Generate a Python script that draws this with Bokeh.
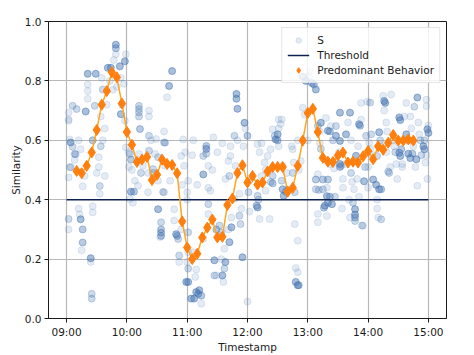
import numpy as np
import pandas as pd
from bokeh.plotting import figure
from bokeh.models import (Range1d, FixedTicker, DatetimeTickFormatter, PrintfTickFormatter,
                          Legend, LegendItem, ColumnDataSource)
from bokeh.embed import file_html
from bokeh.resources import INLINE

DAY = "2000-01-01 "

# ---- axes ----
tick_labels = ["09:00", "10:00", "11:00", "12:00", "13:00", "14:00", "15:00"]
x_limits = ["08:42", "15:18"]
y_ticks = [0.0, 0.2, 0.4, 0.6, 0.8, 1.0]
y_limits = [0.0, 1.0]

# ---- threshold ----
threshold_value = 0.4
threshold_span = ["09:00", "15:00"]

# ---- predominant behaviour ----
pb_time = ["09:10", "09:15", "09:20", "09:25", "09:30", "09:35", "09:40", "09:45", "09:50", "09:55",
           "10:00", "10:05", "10:10", "10:15", "10:20", "10:25", "10:30", "10:35", "10:40", "10:45",
           "10:50", "10:55", "11:00", "11:05", "11:10", "11:15", "11:20", "11:25", "11:30", "11:35",
           "11:40", "11:45", "11:50", "11:55", "12:00", "12:05", "12:10", "12:15", "12:20", "12:25",
           "12:30", "12:35", "12:40", "12:45", "12:50", "12:55", "13:00", "13:05", "13:10", "13:15",
           "13:20", "13:25", "13:30", "13:35", "13:40", "13:45", "13:50", "13:55", "14:00", "14:05",
           "14:10", "14:15", "14:20", "14:25", "14:30", "14:35", "14:40", "14:45"]
pb_value = [0.497, 0.489, 0.514, 0.559, 0.635, 0.720, 0.766, 0.829, 0.812, 0.724,
            0.628, 0.585, 0.527, 0.535, 0.544, 0.466, 0.484, 0.535, 0.520, 0.517,
            0.489, 0.327, 0.239, 0.200, 0.218, 0.273, 0.306, 0.333, 0.273, 0.275,
            0.382, 0.404, 0.490, 0.516, 0.458, 0.480, 0.451, 0.458, 0.495, 0.510,
            0.510, 0.510, 0.427, 0.440, 0.514, 0.599, 0.692, 0.706, 0.628, 0.541,
            0.528, 0.527, 0.549, 0.559, 0.525, 0.528, 0.525, 0.546, 0.564, 0.536,
            0.580, 0.568, 0.592, 0.618, 0.599, 0.599, 0.603, 0.599]

# ---- S observations: minutes after 09:00, similarity, number of coincident observations ----
s_minute = [
    2, 2, 2, 3, 4, 6, 8, 4, 3, 2, 2, 2, 6, 10, 9, 8, 19, 21, 21, 21, 21, 29, 28, 36, 35, 34, 26, 34, 32, 32,
    30, 14, 16, 16, 15, 12, 13, 24, 24, 25, 25, 26, 26, 33, 33, 16, 12, 14, 18, 38, 36, 40,
    41, 44, 49, 49, 49, 58, 53, 47, 59, 54, 54, 55, 58, 59, 62, 62, 65, 43, 46, 38, 50, 57,
    72, 72, 72, 72, 73, 82, 82, 82, 89, 97, 97, 105, 102, 100, 63, 64, 72, 82, 88, 91,
    64, 67, 63, 68, 71, 74, 76, 81, 81, 86, 86, 91, 91, 94, 94, 94, 94, 93, 98, 98,
    97, 103, 96, 107, 107, 109, 110, 111, 114, 112, 112, 114, 116, 117, 115, 118, 84, 66,
    121, 120, 120, 121, 121, 120, 121, 119, 121, 124, 127, 129, 131, 132, 134, 134, 128, 129, 126, 136,
    136, 136, 139, 139, 139, 141, 141, 141, 143, 141, 147, 147, 149, 149, 152, 154, 152, 154, 155, 157,
    158, 156, 157, 162, 161, 164, 164, 163, 163, 161, 162, 167, 168, 169, 169, 170, 167, 172, 173, 174,
    175, 177, 180, 178, 176, 155, 146, 150, 158, 125, 126, 130, 145, 172, 170,
    181, 182, 182, 180, 190, 192, 190, 191, 190, 189, 192, 194, 197, 198, 200, 202, 203, 194, 205, 207,
    208, 210, 210, 211, 211, 211, 205, 203, 205, 214, 213, 215, 214, 215, 216, 218, 219, 220, 224, 225,
    226, 225, 227, 227, 230, 228, 230, 231, 228, 230, 231, 233, 237, 235, 235, 238, 241, 244, 246, 248,
    242, 240, 230, 198,
    250, 252, 253, 252, 250, 251, 250, 250, 248, 255, 260, 248, 255, 259, 260, 257, 256, 258, 259, 259,
    253, 260, 262, 263, 262, 264, 262, 267, 266, 268, 268, 265, 272, 272, 272, 272, 271, 273, 274, 275,
    275, 278, 280, 282, 283, 281, 282, 283, 285, 287, 287, 287, 287, 286, 284, 288, 289, 291, 292, 290,
    291, 293, 293, 294, 295, 296, 297, 298, 299, 300, 300, 302, 302, 277,
    301, 303, 304, 305, 308, 311, 313, 309, 309, 310, 313, 309, 311, 312, 314, 316, 317, 315, 316, 318,
    319, 318, 320, 321, 322, 323, 325, 326, 327, 328, 329, 331, 332, 331, 332, 333, 334, 334, 336, 338,
    338, 340, 340, 342, 344, 342, 343, 345, 346, 348, 347, 349, 349, 350, 351, 352, 353, 355, 356, 356,
    358, 358, 359, 360, 360, 358, 359, 357]
s_value = [
    0.693, 0.67, 0.666, 0.603, 0.593, 0.578, 0.554, 0.51, 0.508, 0.475, 0.335, 0.30, 0.716, 0.705, 0.553,
    0.534, 0.697, 0.824, 0.788, 0.766, 0.74, 0.824, 0.716, 0.771, 0.81, 0.68, 0.60, 0.58, 0.543, 0.51,
    0.49, 0.334, 0.30, 0.256, 0.23, 0.37, 0.35, 0.203, 0.19, 0.083, 0.067, 0.378, 0.357, 0.446, 0.42,
    0.445, 0.60, 0.57, 0.48, 0.48, 0.60, 0.72,
    0.844, 0.844, 0.922, 0.91, 0.89, 0.866, 0.849, 0.87, 0.89, 0.81, 0.688, 0.72, 0.666, 0.576, 0.56,
    0.51, 0.50, 0.80, 0.77, 0.64, 0.78, 0.79,
    0.716, 0.705, 0.694, 0.68, 0.638, 0.70, 0.68, 0.615, 0.604, 0.63, 0.593, 0.833, 0.783, 0.745, 0.554,
    0.535, 0.554, 0.565, 0.554, 0.543, 0.427, 0.427, 0.402, 0.464, 0.447, 0.49, 0.514, 0.49, 0.425, 0.503,
    0.49, 0.464, 0.368, 0.324, 0.30, 0.289, 0.278, 0.274, 0.514, 0.592, 0.425, 0.464, 0.426, 0.368, 0.33,
    0.284, 0.278, 0.268, 0.30, 0.212, 0.19, 0.547, 0.603, 0.514, 0.45, 0.56, 0.60, 0.39,
    0.464, 0.425, 0.40, 0.29, 0.223, 0.19, 0.168, 0.123, 0.123, 0.067, 0.067, 0.089, 0.083, 0.095, 0.077,
    0.05, 0.14, 0.165, 0.223, 0.268, 0.485, 0.547, 0.571, 0.581, 0.555, 0.514, 0.385, 0.352, 0.43, 0.44,
    0.196, 0.145, 0.145, 0.30, 0.313, 0.29, 0.28, 0.20, 0.145, 0.168, 0.19, 0.123, 0.235, 0.257, 0.30,
    0.34, 0.307, 0.58, 0.547, 0.53, 0.48, 0.402, 0.514, 0.756, 0.74, 0.706, 0.615, 0.346, 0.318, 0.37,
    0.206, 0.659, 0.615, 0.64, 0.58, 0.59, 0.61, 0.56, 0.47, 0.55, 0.60, 0.45, 0.50, 0.42, 0.60,
    0.425, 0.464, 0.36, 0.057, 0.587, 0.56, 0.413, 0.40, 0.374, 0.38, 0.335, 0.48, 0.525, 0.50, 0.547,
    0.335, 0.57, 0.59, 0.637, 0.615, 0.603, 0.62, 0.60, 0.67, 0.64, 0.58, 0.48, 0.46, 0.455, 0.67,
    0.655, 0.514, 0.464, 0.435, 0.413, 0.427, 0.49, 0.435, 0.58, 0.57, 0.525, 0.49, 0.425, 0.318, 0.262,
    0.123, 0.112, 0.112, 0.17, 0.156, 0.50, 0.53, 0.687, 0.71, 0.815, 0.80, 0.815, 0.793, 0.788, 0.771,
    0.832, 0.60, 0.60, 0.43,
    0.648, 0.63, 0.659, 0.59, 0.486, 0.433, 0.352, 0.324, 0.468, 0.468, 0.468, 0.435, 0.435, 0.412, 0.39,
    0.38, 0.373, 0.675, 0.44, 0.345, 0.571, 0.632, 0.63, 0.648, 0.52, 0.385, 0.41, 0.41, 0.505, 0.648,
    0.615, 0.60, 0.598, 0.693, 0.52, 0.51, 0.56, 0.514, 0.37, 0.44, 0.47, 0.62, 0.66, 0.693, 0.60,
    0.40, 0.34, 0.49, 0.39, 0.368, 0.35, 0.34, 0.328, 0.435, 0.46, 0.548, 0.47, 0.654, 0.649, 0.58,
    0.41, 0.726, 0.67, 0.313, 0.312, 0.462, 0.51, 0.615, 0.73, 0.44, 0.51, 0.727, 0.57, 0.52,
    0.592, 0.62, 0.55, 0.468, 0.45, 0.435, 0.435, 0.40, 0.37, 0.34, 0.334, 0.547, 0.627, 0.60, 0.58,
    0.732, 0.726, 0.75, 0.70, 0.66, 0.63, 0.56, 0.495, 0.49, 0.51, 0.754, 0.60, 0.58, 0.56, 0.52,
    0.47, 0.677, 0.668, 0.558, 0.547, 0.57, 0.52, 0.51, 0.68, 0.726, 0.62, 0.60, 0.555, 0.54, 0.555,
    0.68, 0.64, 0.58, 0.713, 0.536, 0.51, 0.744, 0.447, 0.66, 0.62, 0.60, 0.55, 0.58, 0.57, 0.60,
    0.737, 0.715, 0.637, 0.625, 0.65, 0.55, 0.47, 0.525]
s_count = [
    1, 1, 1, 1, 4, 2, 2, 2, 1, 1, 2, 1, 2, 2, 2, 1, 4, 4, 1, 1, 1, 4, 2, 2, 1, 1, 3, 2, 1, 1,
    1, 4, 3, 3, 1, 1, 1, 4, 1, 2, 2, 1, 1, 2, 1, 1, 1, 1, 1, 1, 1, 1,
    4, 4, 4, 3, 1, 4, 4, 1, 1, 1, 4, 1, 1, 1, 1, 1, 1, 1, 1, 1, 1, 1,
    2, 2, 2, 2, 3, 1, 1, 2, 1, 1, 2, 4, 4, 1, 2, 3, 1, 2, 1, 2,
    4, 3, 1, 1, 1, 2, 1, 1, 1, 2, 2, 1, 4, 2, 3, 3, 3, 1, 1, 2,
    1, 1, 2, 1, 1, 4, 3, 2, 1, 2, 1, 1, 1, 1, 1, 1, 1, 1,
    1, 1, 1, 2, 1, 1, 2, 4, 4, 4, 4, 4, 4, 4, 3, 1, 1, 1, 1, 1,
    4, 2, 4, 3, 2, 1, 2, 1, 1, 1, 4, 2, 1, 3, 2, 2, 1, 1, 4, 2,
    4, 1, 1, 4, 1, 1, 4, 1, 1, 1, 2, 1, 1, 4, 4, 4, 2, 2, 2, 1,
    4, 4, 3, 1, 1, 1, 1, 1, 1, 1, 1, 1, 1, 1, 1,
    2, 1, 1, 1, 1, 1, 2, 2, 4, 3, 1, 1, 1, 1, 1, 1, 1, 1, 1, 2,
    4, 4, 3, 1, 1, 1, 2, 2, 3, 1, 1, 1, 2, 4, 4, 3, 1, 1, 1, 1,
    1, 2, 2, 1, 1, 4, 4, 3, 1, 1, 1, 1, 1, 1, 4, 4, 1, 4, 3, 4,
    1, 1, 1, 1,
    2, 1, 4, 1, 1, 2, 1, 1, 3, 3, 3, 2, 2, 4, 4, 4, 3, 1, 1, 1,
    2, 4, 3, 1, 1, 4, 3, 2, 1, 2, 4, 2, 4, 4, 4, 3, 1, 2, 1, 1,
    1, 4, 1, 4, 1, 1, 1, 2, 2, 4, 4, 3, 2, 1, 1, 4, 1, 4, 3, 1,
    1, 1, 1, 2, 1, 4, 2, 2, 1, 1, 1, 2, 1, 1,
    1, 2, 1, 4, 4, 4, 3, 1, 1, 1, 2, 2, 4, 2, 1, 4, 4, 1, 1, 1,
    1, 1, 2, 2, 1, 1, 1, 1, 2, 1, 1, 4, 4, 4, 4, 3, 1, 1, 1, 1,
    4, 3, 4, 4, 3, 1, 1, 1, 2, 4, 1, 4, 1, 1, 1, 2, 2, 4, 4, 2,
    1, 1, 4, 4, 1, 1, 1, 1]


def ts(hhmm):
    return pd.Timestamp(DAY + hhmm)


base = ts("09:00")
n = min(len(s_minute), len(s_value), len(s_count))
s_x = base + pd.to_timedelta(np.repeat(np.array(s_minute[:n], dtype=float), s_count[:n]), unit="m")
s_y = np.repeat(np.array(s_value[:n]), s_count[:n])

FONT = "DejaVu Sans"

p = figure(width=474, height=355, output_backend="svg", toolbar_location=None,
           x_axis_type="datetime",
           x_range=Range1d(ts(x_limits[0]), ts(x_limits[1])),
           y_range=Range1d(y_limits[0], y_limits[1]),
           min_border_left=48, min_border_right=28, min_border_top=21, min_border_bottom=35,
           x_axis_label="Timestamp", y_axis_label="Similarity")
p.background_fill_color = "white"
p.border_fill_color = "white"
p.outline_line_color = "#1a1a1a"
p.outline_line_width = 1

sc = p.scatter(x=s_x, y=s_y, size=7, marker="circle",
               fill_color="#4a78b6", fill_alpha=0.15,
               line_color="#4a78b6", line_alpha=0.15, line_width=1)

thr = p.line(x=[ts(threshold_span[0]), ts(threshold_span[1])],
             y=[threshold_value, threshold_value], line_color="#0d2150", line_width=1.6)

pb_src = ColumnDataSource(dict(x=[ts(t) for t in pb_time], y=pb_value))
p.line(x="x", y="y", source=pb_src, line_color="#ffa520", line_width=1.5)
pb = p.scatter(x="x", y="y", source=pb_src, marker="diamond", size=11,
               fill_color="#ff7f0e", line_color="#ff7f0e")

# axes
p.xaxis.ticker = FixedTicker(ticks=[ts(t).value / 1e6 for t in tick_labels])
fmt = "%H:%M"
p.xaxis.formatter = DatetimeTickFormatter(microseconds=fmt, milliseconds=fmt, seconds=fmt,
                                          minsec=fmt, minutes=fmt, hourmin=fmt, hours=fmt,
                                          days=fmt, months=fmt, years=fmt)
p.yaxis.ticker = FixedTicker(ticks=y_ticks)
p.yaxis.formatter = PrintfTickFormatter(format="%.1f")
for ax in (p.xaxis, p.yaxis):
    ax.major_label_text_font = FONT
    ax.major_label_text_font_size = "10.5px"
    ax.major_label_text_color = "#1a1a1a"
    ax.axis_label_text_font = FONT
    ax.axis_label_text_font_size = "10.5px"
    ax.axis_label_text_font_style = "normal"
    ax.axis_label_text_color = "#1a1a1a"
    ax.axis_line_color = "#1a1a1a"
    ax.major_tick_line_color = "#1a1a1a"
    ax.major_tick_out = 4
    ax.major_tick_in = 0
    ax.minor_tick_line_color = None
    ax.major_label_standoff = 3
    ax.axis_label_standoff = 0

p.grid.grid_line_color = "#b8b8b8"
p.grid.grid_line_width = 1.2

legend = Legend(items=[LegendItem(label="S", renderers=[sc]),
                       LegendItem(label="Threshold", renderers=[thr]),
                       LegendItem(label="Predominant Behavior", renderers=[pb])],
                location="top_right")
legend.label_text_font = FONT
legend.label_text_font_size = "10.5px"
legend.label_text_color = "#1a1a1a"
legend.glyph_width = 22
legend.glyph_height = 14
legend.label_height = 14
legend.spacing = 1
legend.padding = 5
legend.margin = 6
legend.label_standoff = 8
legend.border_line_color = "#cccccc"
legend.background_fill_alpha = 0.8
p.add_layout(legend)

open("out.html", "w").write(file_html(p, INLINE))
